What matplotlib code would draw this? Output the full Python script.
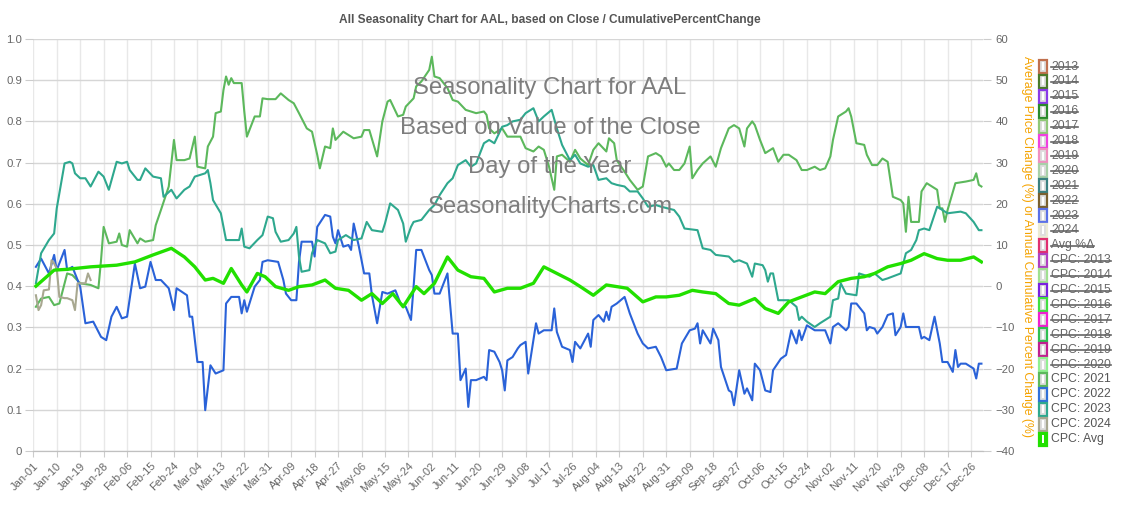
import matplotlib
matplotlib.use("Agg")
import matplotlib.pyplot as plt
from matplotlib.patches import Rectangle
from matplotlib.lines import Line2D

plt.rcParams["font.family"] = ["Liberation Sans", "DejaVu Sans"]

# x categories: day of year (0 = Jan-01), labelled every 9 days
tick_labels = ["Jan-01", "Jan-10", "Jan-19", "Jan-28", "Feb-06", "Feb-15", "Feb-24",
               "Mar-04", "Mar-13", "Mar-22", "Mar-31", "Apr-09", "Apr-18", "Apr-27",
               "May-06", "May-15", "May-24", "Jun-02", "Jun-11", "Jun-20", "Jun-29",
               "Jul-08", "Jul-17", "Jul-26", "Aug-04", "Aug-13", "Aug-22", "Aug-31",
               "Sep-09", "Sep-18", "Sep-27", "Oct-06", "Oct-15", "Oct-24", "Nov-02",
               "Nov-11", "Nov-20", "Nov-29", "Dec-08", "Dec-17", "Dec-26"]

# CPC: 2021
days_2021 = [1, 3, 6, 8, 10, 13, 15, 18, 22, 25, 26, 27, 29, 32, 33, 34, 36, 37, 40, 41,
             43, 46, 47, 49, 52, 54, 55, 58, 60, 62, 63, 66, 67, 69, 70, 72, 73, 74, 75, 76,
             77, 80, 81, 82, 85, 87, 88, 90, 93, 95, 98, 100, 102, 105, 107, 109, 110, 112,
             114, 115, 116, 119, 121, 123, 126, 127, 129, 132, 134, 136, 137, 140, 142, 143,
             146, 147, 149, 152, 153, 154, 156, 159, 161, 163, 166, 170, 173, 174, 175, 177,
             180, 182, 187, 189, 192, 194, 196, 198, 200, 201, 203, 206, 208, 210, 213, 215,
             217, 220, 221, 223, 224, 227, 229, 232, 234, 236, 239, 241, 243, 244, 246, 248,
             250, 252, 253, 255, 257, 260, 262, 264, 267, 269, 271, 273, 274, 276, 277, 279,
             281, 284, 286, 288, 290, 293, 295, 297, 300, 302, 304, 306, 307, 309, 312, 313,
             314, 316, 319, 320, 322, 324, 326, 328, 330, 333, 334, 335, 336, 337, 340, 341,
             343, 346, 347, 348, 349, 350, 351, 354, 358, 361, 362, 363, 364]
cpc_2021 = [-5.0, -3.0, -2.6, -4.6, -4.2, 3.1, 2.7, 0.7, 0.3, -0.5, 6.3, 14.4, 10.4, 10.8,
            12.8, 10.0, 9.6, 13.6, 10.4, 11.6, 10.8, 11.2, 14.8, 18.5, 24.2, 35.5, 30.6,
            30.6, 31.0, 36.3, 29.0, 28.6, 33.9, 36.3, 42.0, 42.4, 47.6, 50.9, 48.9, 50.5,
            49.3, 49.3, 42.4, 36.3, 41.2, 41.2, 45.6, 45.4, 45.4, 46.8, 45.2, 44.4, 42.0,
            38.3, 37.5, 31.9, 28.6, 33.9, 33.5, 38.3, 35.5, 37.5, 36.7, 35.9, 36.3, 37.9,
            37.9, 31.5, 40.0, 44.8, 45.2, 41.2, 41.6, 43.6, 45.6, 48.5, 49.7, 52.5, 55.7,
            50.9, 50.5, 48.1, 45.2, 44.8, 42.8, 42.0, 42.4, 41.6, 38.3, 37.1, 38.3, 36.3,
            36.3, 33.5, 32.7, 33.9, 33.1, 29.0, 23.4, 31.5, 31.9, 30.2, 33.1, 31.0, 29.4,
            33.1, 34.7, 32.7, 35.9, 34.7, 30.6, 27.8, 25.8, 23.4, 24.2, 31.5, 32.3, 31.5,
            29.0, 29.8, 28.2, 28.2, 29.8, 33.9, 26.2, 28.2, 29.8, 31.5, 29.0, 33.5, 38.3,
            39.1, 38.3, 33.9, 38.3, 40.0, 39.1, 35.5, 32.3, 33.5, 30.2, 31.9, 31.9, 30.6,
            28.2, 28.2, 29.0, 28.2, 28.6, 31.5, 35.5, 41.2, 42.4, 43.2, 41.2, 34.7, 34.3,
            31.9, 29.4, 29.4, 31.0, 30.2, 21.7, 20.9, 20.1, 13.2, 21.7, 15.6, 15.6, 23.0,
            25.0, 23.8, 23.4, 18.9, 18.9, 15.6, 18.5, 25.0, 25.4, 25.8, 27.4, 24.6, 24.2]

# CPC: 2022
days_2022 = [1, 3, 6, 8, 9, 12, 13, 15, 18, 20, 23, 26, 28, 30, 32, 34, 36, 39, 41, 43,
             45, 47, 49, 52, 54, 55, 59, 60, 61, 63, 65, 66, 68, 70, 73, 74, 76, 79, 80, 81,
             82, 85, 87, 88, 90, 94, 96, 97, 99, 101, 102, 103, 107, 108, 109, 112, 114, 115,
             116, 117, 119, 121, 122, 123, 125, 127, 129, 130, 132, 134, 136, 139, 141, 143,
             145, 146, 147, 149, 152, 153, 154, 156, 159, 161, 163, 164, 166, 167, 168, 170,
             173, 174, 175, 177, 179, 180, 181, 182, 184, 186, 187, 189, 190, 193, 194, 196,
             199, 200, 201, 203, 206, 207, 208, 210, 213, 214, 215, 217, 219, 220, 221, 222,
             224, 227, 229, 232, 234, 236, 239, 241, 243, 247, 249, 252, 254, 255, 256, 257,
             260, 261, 263, 264, 267, 268, 269, 271, 273, 274, 276, 277, 279, 281, 283, 284,
             287, 289, 291, 293, 294, 295, 297, 300, 302, 304, 306, 307, 309, 312, 313, 314,
             316, 319, 320, 321, 323, 324, 326, 328, 330, 331, 333, 334, 335, 337, 340, 341,
             342, 344, 346, 348, 349, 351, 353, 354, 355, 356, 358, 360, 361, 362, 363, 364]
cpc_2022 = [4.7, 6.7, 3.1, 7.6, 3.9, 8.8, 3.9, 4.7, -0.1, -9.0, -8.6, -12.3, -13.1, -7.4,
            -5.0, -7.8, -7.4, 5.5, -0.5, -0.1, 5.9, 1.5, 1.5, -0.5, -5.8, -0.5, -2.2, -7.4,
            -7.4, -18.4, -18.4, -30.1, -19.2, -21.2, -20.4, -4.2, -2.6, -2.6, -6.6, -3.4,
            -6.2, -0.1, 1.5, 5.9, 6.3, 5.9, 1.5, -1.8, -3.4, -3.4, 5.9, 10.8, 10.8, 7.2,
            14.4, 17.3, 16.9, 12.0, 10.4, 13.6, 9.6, 10.0, 8.8, 15.2, 9.6, 3.1, 3.1, -2.2,
            -9.0, -1.4, -1.8, -1.0, -4.2, -5.0, -8.2, -0.1, 8.8, 8.8, 3.9, 2.7, -1.8, -1.8,
            3.1, -11.5, -11.5, -22.8, -20.0, -29.3, -22.8, -22.8, -22.0, -22.8, -15.5,
            -15.9, -18.4, -20.4, -25.3, -18.0, -17.2, -15.1, -14.3, -13.5, -21.2, -9.0,
            -11.5, -10.7, -10.7, -5.4, -11.1, -14.7, -15.5, -18.4, -13.5, -15.1, -11.5,
            -14.7, -8.2, -7.0, -8.6, -6.2, -8.2, -5.0, -4.2, -2.6, -6.6, -11.5, -13.9, -15.1,
            -14.7, -17.2, -20.4, -20.0, -13.9, -10.7, -10.3, -9.0, -13.9, -10.7, -13.9,
            -10.3, -13.1, -19.6, -25.3, -25.7, -28.9, -20.4, -26.1, -24.8, -27.7, -18.8,
            -20.4, -25.3, -25.7, -20.4, -17.6, -16.7, -10.7, -13.9, -10.7, -13.1, -9.5,
            -10.7, -10.7, -10.7, -13.9, -9.9, -9.0, -10.7, -9.9, -4.2, -4.2, -6.6, -10.7,
            -9.9, -10.3, -11.5, -9.9, -7.0, -6.6, -11.9, -9.9, -6.6, -9.9, -9.9, -9.9,
            -12.7, -12.3, -13.1, -7.4, -13.9, -18.4, -18.4, -20.8, -15.5, -19.6, -18.8,
            -18.8, -19.6, -20.0, -22.4, -18.8, -18.8]

# CPC: 2023
days_2023 = [1, 3, 6, 8, 9, 12, 14, 15, 16, 18, 20, 22, 25, 27, 29, 32, 34, 36, 37, 40,
             41, 43, 46, 49, 50, 53, 55, 58, 60, 62, 66, 67, 68, 69, 72, 74, 76, 79, 80, 81,
             83, 86, 88, 90, 92, 93, 95, 98, 100, 101, 102, 103, 106, 107, 109, 112, 114, 116,
             117, 120, 123, 126, 128, 130, 134, 135, 137, 140, 142, 143, 145, 146, 149, 152,
             154, 156, 159, 161, 163, 166, 168, 170, 173, 175, 177, 180, 182, 184, 187, 189,
             192, 194, 196, 199, 201, 203, 206, 208, 210, 213, 215, 217, 220, 222, 224, 227,
             229, 232, 234, 236, 239, 241, 246, 248, 250, 255, 257, 260, 262, 267, 269, 271,
             274, 276, 277, 280, 281, 282, 283, 284, 286, 290, 293, 294, 295, 297, 300, 302,
             304, 306, 307, 309, 310, 312, 316, 317, 321, 323, 326, 328, 333, 335, 337, 339,
             340, 342, 344, 347, 349, 351, 356, 358, 361, 363, 364]
cpc_2023 = [0.7, 8.0, 11.2, 12.8, 18.9, 29.8, 30.2, 29.8, 27.4, 26.2, 26.2, 24.2, 27.8,
            26.6, 23.4, 30.2, 29.8, 30.2, 28.2, 25.8, 25.8, 28.6, 26.6, 26.2, 21.7, 23.4,
            21.3, 23.4, 24.2, 26.6, 27.4, 28.2, 25.0, 20.9, 17.7, 11.2, 11.2, 11.2, 14.0,
            9.6, 9.2, 11.2, 12.4, 16.9, 16.5, 13.2, 10.8, 11.2, 12.8, 14.4, 7.2, 3.5, 3.9,
            8.0, 11.2, 10.4, 8.0, 8.4, 11.2, 12.4, 11.2, 11.6, 15.6, 13.6, 13.2, 15.2, 20.1,
            18.5, 15.2, 10.8, 14.4, 15.6, 16.1, 18.5, 19.7, 22.1, 25.0, 26.2, 29.4, 30.6,
            29.0, 29.8, 34.7, 35.5, 34.7, 38.7, 39.1, 40.0, 40.4, 42.0, 43.2, 40.0, 41.2,
            42.8, 38.3, 34.3, 30.6, 31.9, 29.8, 29.0, 29.4, 25.8, 26.2, 25.0, 24.6, 24.2,
            23.0, 23.0, 21.3, 19.3, 19.7, 19.3, 18.5, 16.9, 14.0, 13.6, 9.2, 8.8, 7.6, 7.2,
            5.9, 6.3, 5.5, 2.3, 5.5, 5.1, 3.9, 1.1, 3.1, 3.1, -3.4, -3.4, -5.0, -8.2, -7.4,
            -8.6, -9.9, -9.0, -8.2, -7.4, -3.4, -3.0, 0.7, -1.8, -2.2, 3.1, 2.3, 3.1, 1.5,
            1.9, 3.1, 8.0, 8.8, 11.2, 13.6, 14.0, 13.6, 19.3, 18.5, 17.7, 18.1, 17.7, 15.6,
            13.6, 13.6]

# CPC: 2024 (only January so far)
days_2024 = [1, 2, 3, 4, 6, 7, 8, 9, 10, 12, 13, 15, 16, 17, 18, 20, 21, 22]
cpc_2024 = [-2.2, -5.8, -4.6, -1.0, -0.8, 6.3, 5.5, 4.3, -2.6, -2.9, -2.9, -3.4, -5.8,
            0.7, 0.7, 0.7, 3.1, 1.5]

# CPC: Avg
days_avg = [1, 8, 13, 22, 32, 39, 46, 53, 58, 62, 66, 69, 73, 76, 80, 82, 86, 89, 93, 98,
            102, 107, 112, 116, 121, 126, 130, 134, 138, 142, 147, 150, 154, 159, 163, 168,
            173, 177, 182, 187, 192, 196, 201, 206, 210, 215, 220, 224, 228, 234, 239, 243,
            248, 253, 257, 262, 267, 271, 277, 281, 286, 290, 295, 300, 304, 309, 314, 319,
            323, 328, 333, 337, 342, 347, 351, 356, 361, 364]
cpc_avg = [0.0, 3.9, 4.1, 4.7, 5.1, 5.9, 7.6, 9.2, 7.1, 4.7, 1.5, 1.9, 0.7, 4.3, 0.3,
           -1.4, 3.1, 2.3, -0.1, -1.0, -0.1, 0.3, 1.5, -0.5, -1.0, -3.4, -1.8, -4.2, -1.8,
           -5.0, -0.1, -1.8, 0.7, 7.1, 3.9, 2.3, 1.9, -1.4, -0.5, -0.5, 0.7, 4.7, 3.1, 1.5,
           -0.1, -2.2, 0.3, -0.1, -0.5, -3.8, -2.6, -2.6, -2.2, -1.0, -1.4, -1.8, -4.2, -4.6,
           -3.0, -5.4, -6.6, -3.8, -2.6, -1.4, -1.8, 1.1, 1.9, 2.3, 3.1, 4.7, 5.5, 6.3, 7.9,
           6.7, 6.3, 6.3, 7.1, 5.9]

legend_names = ["2013", "2014", "2015", "2016", "2017", "2018", "2019", "2020", "2021",
                "2022", "2023", "2024", "Avg %\u0394", "CPC: 2013", "CPC: 2014", "CPC: 2015",
                "CPC: 2016", "CPC: 2017", "CPC: 2018", "CPC: 2019", "CPC: 2020", "CPC: 2021",
                "CPC: 2022", "CPC: 2023", "CPC: 2024", "CPC: Avg"]
legend_colors = ["#c0704e", "#4a7a2a", "#8a3ae8", "#2a8a2a", "#90c878", "#f040e0",
                 "#f090c0", "#a8d0a8", "#3a8080", "#7a6030", "#5a70e8", "#ecebd4",
                 "#e03070", "#b040c0", "#a0e090", "#7a20e0", "#40e040", "#f020d0",
                 "#30c050", "#c02090", "#90f090", "#5cb85c", "#3070d8", "#2ea88e",
                 "#a8a890", "#22e000"]
legend_shown = ["CPC: 2021", "CPC: 2022", "CPC: 2023", "CPC: 2024", "CPC: Avg"]

W, H = 1124, 507
fig = plt.figure(figsize=(W / 100, H / 100), dpi=100)
left, right, top, bottom = 33.3, 983, 39, 451
ax = fig.add_axes([left / W, 1 - bottom / H, (right - left) / W, (bottom - top) / H])
ax2 = ax.twinx()

grey_txt = "#666666"
ax.set_xlim(0, 364.6)
ax.set_ylim(0, 1.0)
ax.set_yticks([i / 10 for i in range(11)])
ax.set_yticklabels(["0"] + ["%.1f" % (i / 10) for i in range(1, 11)])
ax.set_xticks(range(0, 9 * len(tick_labels), 9))
ax.set_xticklabels(tick_labels, rotation=45, ha="right", rotation_mode="anchor")
ax.grid(True, axis="y", color="#d6d6d6", lw=1)
ax.grid(True, axis="x", color="#e8e8e8", lw=1)
ax.tick_params(axis="y", length=6, color="#cccccc", labelcolor=grey_txt, labelsize=8.2, pad=2)
ax.tick_params(axis="x", length=4, color="#cccccc", labelcolor=grey_txt, labelsize=8, pad=3)

ax2.set_ylim(-40, 60)
ax2.set_yticks(range(-40, 61, 10))
ax2.tick_params(axis="y", length=6, color="#cccccc", labelcolor=grey_txt, labelsize=8.2, pad=3)

for a in (ax, ax2):
    for s in ["top", "left", "right"]:
        a.spines[s].set_visible(False)
    a.spines["bottom"].set_color("#c0c0c0")
ax.set_axisbelow(True)

ax2.plot(days_2021, cpc_2021, color="#5cb85c", lw=1.5, zorder=3)
ax2.plot(days_2022, cpc_2022, color="#2a62d8", lw=1.5, zorder=3)
ax2.plot(days_2023, cpc_2023, color="#2ea88e", lw=1.5, zorder=3)
ax2.plot(days_2024, cpc_2024, color="#a8a890", lw=1.5, zorder=3)
ax2.plot(days_avg, cpc_avg, color="#22e000", lw=2.4, zorder=4)

# watermark
for i, line in enumerate(["Seasonality Chart for AAL", "Based on Value of the Close",
                          "Day of the Year", "SeasonalityCharts.com"]):
    fig.text(550 / W, 1 - (88 + 39.5 * i) / H, line, ha="center", va="center",
             fontsize=17.2, color="#7d7d7d", zorder=10)

fig.text(550 / W, 1 - 20 / H,
         "All Seasonality Chart for AAL, based on Close / CumulativePercentChange",
         ha="center", va="center", fontsize=8.6, fontweight="bold", color="#555555")

fig.text(1027 / W, 1 - 246 / H,
         "Average Price Change (%) or Annual Cumulative Percent Change (%)",
         ha="center", va="center", rotation=-90, fontsize=8.8, color="#f5a300")

# legend
fig.canvas.draw()
renderer = fig.canvas.get_renderer()
for i, (name, col) in enumerate(zip(legend_names, legend_colors)):
    yc = 66.5 + 14.9 * i
    face = col if name == "CPC: Avg" else "#dedede"
    fig.patches.append(Rectangle(((1039) / W, 1 - (yc + 6.5) / H), 7.5 / W, 13 / H,
                                 transform=fig.transFigure, facecolor=face,
                                 edgecolor=col, lw=1.6))
    fig.patches.append(Rectangle(((1041.8) / W, 1 - (yc + 4) / H), 2 / W, 8 / H,
                                 transform=fig.transFigure, facecolor="white",
                                 edgecolor="none"))
    shown = name in legend_shown
    t = fig.text(1051 / W, 1 - yc / H, name, ha="left", va="center", fontsize=8.8,
                 color="#555555" if shown else "#666666")
    if not shown:
        bb = t.get_window_extent(renderer)
        fig.lines.append(Line2D([bb.x0 / W, bb.x1 / W], [1 - (yc + 0.5) / H] * 2,
                                transform=fig.transFigure, color="#666666", lw=1.2))

fig.savefig("out.png", dpi=100)
